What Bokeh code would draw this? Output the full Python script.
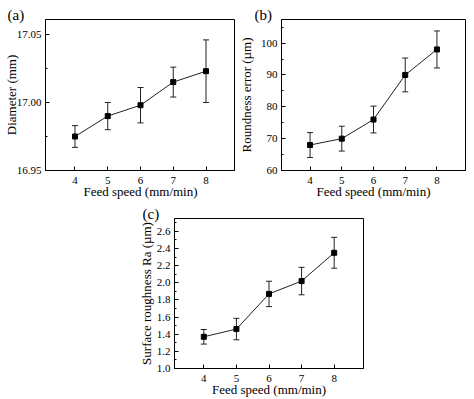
from bokeh.plotting import figure
from bokeh.models import (ColumnDataSource, Whisker, TeeHead, FixedTicker,
                          PrintfTickFormatter, Range1d, Spacer)
from bokeh.layouts import row, column
from bokeh.embed import file_html
from bokeh.resources import INLINE

# ---------------- data ----------------
feed_speed = [4, 5, 6, 7, 8]
diameter = [16.975, 16.990, 16.998, 17.015, 17.023]
diameter_err = [0.008, 0.010, 0.013, 0.011, 0.023]
roundness = [68.0, 70.0, 76.0, 90.0, 98.0]
roundness_err = [3.9, 3.9, 4.2, 5.3, 5.8]
roughness = [1.37, 1.46, 1.87, 2.02, 2.35]
roughness_err = [0.085, 0.125, 0.148, 0.16, 0.18]

x_ticks = [4, 5, 6, 7, 8]
a_ticks = [16.95, 17.00, 17.05]
a_minor = [16.975, 17.025]
b_ticks = [60, 70, 80, 90, 100]
b_minor = [65, 75, 85, 95, 105]
c_ticks = [1.0, 1.2, 1.4, 1.6, 1.8, 2.0, 2.2, 2.4, 2.6]
c_minor = [1.1, 1.3, 1.5, 1.7, 1.9, 2.1, 2.3, 2.5, 2.7]

FONT = "Liberation Serif"
X_RANGE = (3.1, 8.9)


def panel(y, err, yr, ticks, minor, fmt, ylabel, tag, width, height,
          bl, bt, bb, br, tag_dx, ylab_standoff):
    src = ColumnDataSource(dict(
        x=feed_speed, y=y,
        lo=[v - e for v, e in zip(y, err)],
        hi=[v + e for v, e in zip(y, err)],
    ))
    p = figure(width=width, height=height, output_backend="svg",
               toolbar_location=None, x_range=Range1d(*X_RANGE),
               y_range=Range1d(*yr), min_border_left=bl, min_border_top=bt,
               min_border_bottom=bb, min_border_right=br, title=tag)
    p.title.align = "left"
    p.title.offset = tag_dx
    p.title.standoff = -6
    p.title.text_font = FONT
    p.title.text_font_size = "15px"
    p.title.text_font_style = "normal"
    p.title.text_color = "black"

    p.grid.visible = False
    p.background_fill_color = "white"
    p.border_fill_color = "white"
    p.outline_line_color = "black"
    p.outline_line_width = 1
    p.outline_line_alpha = 1

    p.line("x", "y", source=src, line_color="#222222", line_width=1)
    wh = Whisker(source=src, base="x", upper="hi", lower="lo",
                 line_color="#222222", line_width=1,
                 upper_head=TeeHead(size=6, line_color="#222222", line_width=1),
                 lower_head=TeeHead(size=6, line_color="#222222", line_width=1))
    p.add_layout(wh)
    p.scatter("x", "y", source=src, marker="square", size=5,
              fill_color="black", line_color="black")

    for ax in (p.xaxis[0], p.yaxis[0]):
        ax.axis_line_color = "black"
        ax.major_tick_in = 4
        ax.major_tick_out = 0
        ax.minor_tick_in = 2
        ax.minor_tick_out = 0
        ax.major_label_text_font = FONT
        ax.major_label_text_font_size = "11px"
        ax.major_label_text_color = "black"
        ax.major_label_text_line_height = 1.0
        ax.axis_label_text_font = FONT
        ax.axis_label_text_font_size = "13px"
        ax.axis_label_text_font_style = "normal"
        ax.axis_label_text_color = "black"
        ax.axis_label_text_line_height = 1.0

    p.xaxis.major_label_standoff = 6
    p.xaxis.axis_label_standoff = -3
    p.yaxis.major_label_standoff = 4
    p.yaxis.axis_label_standoff = ylab_standoff

    p.xaxis.ticker = FixedTicker(ticks=x_ticks)
    p.xaxis.axis_label = "Feed speed (mm/min)"
    p.yaxis.ticker = FixedTicker(ticks=ticks, minor_ticks=minor)
    p.yaxis.formatter = PrintfTickFormatter(format=fmt)
    p.yaxis.axis_label = ylabel
    return p


pa = panel(diameter, diameter_err, (16.95, 17.061), a_ticks, a_minor, "%.2f",
           "Diameter (mm)", "(a)", 235, 201, 45, 19, 30, 0, -38, -5)
pb = panel(roundness, roundness_err, (60, 107.4), b_ticks, b_minor, "%d",
           "Roundness error (µm)", "(b)", 239, 201, 44, 19, 30, 9, -27, 4)
pc = panel(roughness, roughness_err, (1.0, 2.75), c_ticks, c_minor, "%.1f",
           "Surface roughness Ra (µm)", "(c)", 233, 198, 39, 17, 29, 5, -32, 0)

layout = column(row(pa, pb), row(Spacer(width=135, height=198), pc))

open("out.html", "w").write(file_html(layout, INLINE))
